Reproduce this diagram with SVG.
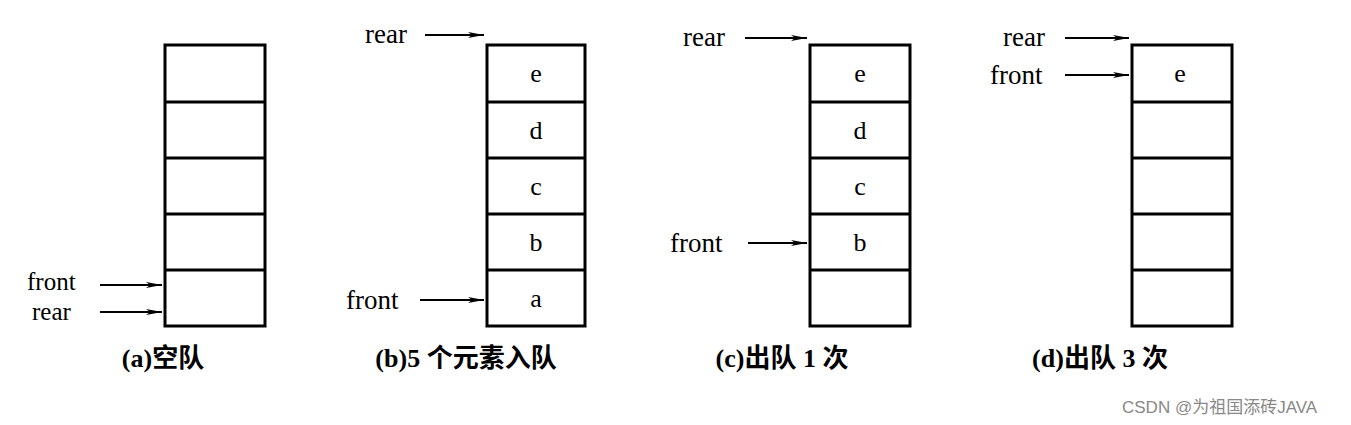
<svg xmlns="http://www.w3.org/2000/svg" width="1351" height="425" viewBox="0 0 1351 425">
<style>
.cell{fill:#fff;stroke:#000;stroke-width:3}
.t{font-family:"Liberation Serif",serif;font-size:27px;fill:#000}
.s{font-size:25px}
.c{font-family:"Liberation Serif",serif;font-size:26px;fill:#000;text-anchor:middle}
.cap{font-family:"Liberation Serif","Noto Sans CJK SC",serif;font-size:26px;font-weight:bold;fill:#000;text-anchor:middle}
.a{stroke:#000;stroke-width:2;fill:none;marker-end:url(#ah)}
.wm{font-family:"Liberation Sans","Noto Sans CJK SC",sans-serif;font-size:17px;fill:#888}
</style>
<defs><marker id="ah" viewBox="0 0 16 6" refX="16" refY="3" markerWidth="16" markerHeight="6" markerUnits="userSpaceOnUse" orient="auto"><path d="M0,0 L16,3 L0,6 L4,3 Z" fill="#000"/></marker></defs>
<g id="stack-a"><rect class="cell" x="165" y="45" width="100" height="281"/><path d="M165,102H265M165,158H265M165,214H265M165,270H265" stroke="#000" stroke-width="3"/></g>
<g id="stack-b"><rect class="cell" x="487" y="45" width="98" height="281"/><path d="M487,102H585M487,158H585M487,214H585M487,270H585" stroke="#000" stroke-width="3"/>
<text class="c" x="536" y="82">e</text><text class="c" x="536" y="139">d</text><text class="c" x="536" y="195">c</text><text class="c" x="536" y="251">b</text><text class="c" x="536" y="307">a</text></g>
<g id="stack-c"><rect class="cell" x="810" y="45" width="100" height="281"/><path d="M810,102H910M810,158H910M810,214H910M810,270H910" stroke="#000" stroke-width="3"/>
<text class="c" x="860" y="82">e</text><text class="c" x="860" y="139">d</text><text class="c" x="860" y="195">c</text><text class="c" x="860" y="251">b</text></g>
<g id="stack-d"><rect class="cell" x="1132" y="45" width="100" height="281"/><path d="M1132,102H1232M1132,158H1232M1132,214H1232M1132,270H1232" stroke="#000" stroke-width="3"/>
<text class="c" x="1180" y="82">e</text></g>
<g id="labels">
<text class="t s" x="27" y="290">front</text><text class="t s" x="32" y="320">rear</text>
<text class="t" x="365" y="43">rear</text><text class="t" x="346" y="309">front</text>
<text class="t" x="683" y="46">rear</text><text class="t" x="670" y="252">front</text>
<text class="t" x="1003" y="46">rear</text><text class="t" x="990" y="84">front</text>
</g>
<g id="connectors">
<line class="a" x1="100" y1="285" x2="162" y2="285"/><line class="a" x1="100" y1="312" x2="162" y2="312"/>
<line class="a" x1="425" y1="35" x2="484" y2="35"/><line class="a" x1="420" y1="300" x2="484" y2="300"/>
<line class="a" x1="745" y1="38" x2="807" y2="38"/><line class="a" x1="748" y1="243" x2="807" y2="243"/>
<line class="a" x1="1065" y1="38" x2="1129" y2="38"/><line class="a" x1="1065" y1="75" x2="1129" y2="75"/>
</g>
<g id="captions">
<text class="cap" x="163" y="367">(a)空队</text>
<text class="cap" x="466" y="367">(b)5 个元素入队</text>
<text class="cap" x="782" y="367">(c)出队 1 次</text>
<text class="cap" x="1100" y="367">(d)出队 3 次</text>
</g>
<text class="wm" x="1122" y="413">CSDN @为祖国添砖JAVA</text>
</svg>
